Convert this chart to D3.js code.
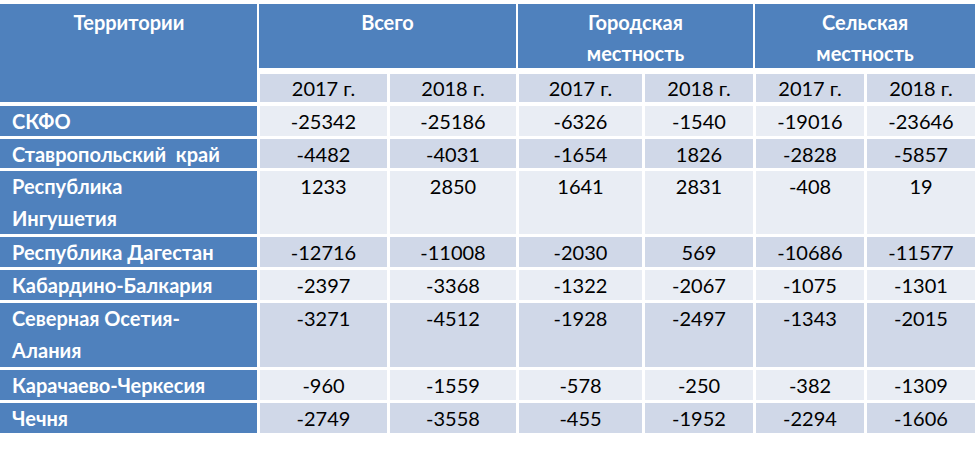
<!DOCTYPE html>
<html><head><meta charset="utf-8">
<script src="https://cdn.jsdelivr.net/npm/d3@7"></script>
<style>body{margin:0;background:#fff}</style>
</head><body>
<div id="chart"></div>
<script>
var territories = [["СКФО"], ["Ставропольский  край"], ["Республика", "Ингушетия"],
  ["Республика Дагестан"], ["Кабардино-Балкария"], ["Северная Осетия-", "Алания"],
  ["Карачаево-Черкесия"], ["Чечня"]];
var groups = [["Всего"], ["Городская", "местность"], ["Сельская", "местность"]];
var years = ["2017 г.", "2018 г."];
var total2017 = [-25342, -4482, 1233, -12716, -2397, -3271, -960, -2749];
var total2018 = [-25186, -4031, 2850, -11008, -3368, -4512, -1559, -3558];
var urban2017 = [-6326, -1654, 1641, -2030, -1322, -1928, -578, -455];
var urban2018 = [-1540, 1826, 2831, 569, -2067, -2497, -250, -1952];
var rural2017 = [-19016, -2828, -408, -10686, -1075, -1343, -382, -2294];
var rural2018 = [-23646, -5857, 19, -11577, -1301, -2015, -1309, -1606];
var series = [total2017, total2018, urban2017, urban2018, rural2017, rural2018];

var W = 976, H = 449;
var svg = d3.select("#chart").append("svg").attr("width", W).attr("height", H);
var font = "Lato, 'Open Sans', sans-serif";
var blue = "#4f81bd", light = "#e9edf4", dark = "#d0d8e8";

var colEdges = [0, 258, 388, 517, 643, 754, 865, 976];
var rowTops = [104, 137, 169, 235, 268, 301, 368, 401, 434];

// header
svg.append("rect").attr("x", 0).attr("y", 4).attr("width", 257).attr("height", 98).attr("fill", blue);
svg.append("text").attr("x", 129).attr("y", 30).attr("text-anchor", "middle")
  .attr("font-family", font).attr("font-weight", "bold").attr("font-size", 20).attr("fill", "#fff").text("Территории");
groups.forEach(function(g, i) {
  var x0 = colEdges[1 + i * 2] + 1, x1 = colEdges[3 + i * 2] - 1;
  svg.append("rect").attr("x", x0).attr("y", 4).attr("width", x1 - x0).attr("height", 64).attr("fill", blue);
  g.forEach(function(t, j) {
    svg.append("text").attr("x", (x0 + x1) / 2).attr("y", 30 + j * 31).attr("text-anchor", "middle")
      .attr("font-family", font).attr("font-weight", "bold").attr("font-size", 20).attr("fill", "#fff").text(t);
  });
});
for (var c = 0; c < 6; c++) {
  var x0 = colEdges[c + 1] + 2, x1 = colEdges[c + 2] - 1;
  svg.append("rect").attr("x", x0).attr("y", 74).attr("width", x1 - x0).attr("height", 28).attr("fill", dark);
  svg.append("text").attr("x", (x0 + x1) / 2).attr("y", 96).attr("text-anchor", "middle")
    .attr("font-family", font).attr("font-size", 20).attr("fill", "#000").text(years[c % 2]);
}

// body
territories.forEach(function(t, r) {
  var y0 = rowTops[r] + 2, y1 = rowTops[r + 1] - 1;
  svg.append("rect").attr("x", 0).attr("y", y0).attr("width", 257).attr("height", y1 - y0).attr("fill", blue);
  t.forEach(function(line, j) {
    svg.append("text").attr("x", 12).attr("y", y0 + 23 + j * 32)
      .attr("font-family", font).attr("font-weight", "bold").attr("font-size", 20).attr("fill", "#fff")
      .attr("xml:space", "preserve").style("white-space", "pre").text(line);
  });
  series.forEach(function(s, c) {
    var x0 = colEdges[c + 1] + 2, x1 = colEdges[c + 2] - 1;
    svg.append("rect").attr("x", x0).attr("y", y0).attr("width", x1 - x0).attr("height", y1 - y0)
      .attr("fill", r % 2 ? dark : light);
    svg.append("text").attr("x", (x0 + x1) / 2).attr("y", y0 + 23).attr("text-anchor", "middle")
      .attr("font-family", font).attr("font-size", 20).attr("fill", "#000").text(s[r]);
  });
});
</script>
</body></html>
